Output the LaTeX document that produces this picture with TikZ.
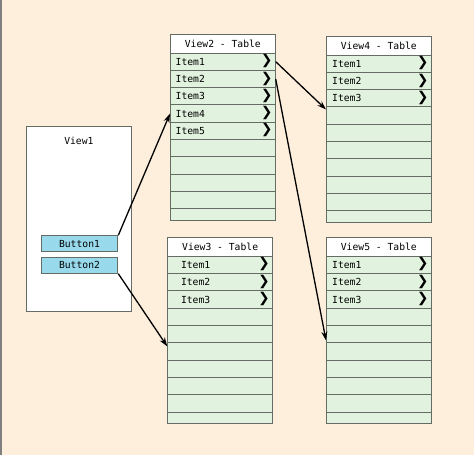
\documentclass[tikz,border=0pt]{standalone}
\usepackage{fontspec}
\usetikzlibrary{arrows.meta}
\newfontfamily\monofont{DejaVu Sans Mono}
\newfontfamily\chevfont{DejaVu Sans}
\definecolor{bgpeach}{RGB}{253,239,220}
\definecolor{rowgreen}{RGB}{225,242,222}
\definecolor{btnblue}{RGB}{152,218,236}
\definecolor{edgegray}{RGB}{100,108,100}

% table: name, x, y, title, items, text offset
\newcommand\tablebox[6]{%
  \node[titlecell,anchor=north west] (#1) at (#2,#3) {#4};
  \foreach \i in {1,...,9}
    \node[rowcell,anchor=north west] (#1-\i) at ({#2},{#3+18.5+(\i-1)*17.33}) {};
  \node[rowcell,anchor=north west,minimum height=11.5pt] (#1-10) at ({#2},{#3+18.5+9*17.33}) {};
  \foreach \i in {1,...,#5}{
    \node[itemtext,anchor=west] (#1-t\i) at ([xshift=#6pt]#1-\i.west) {Item\i};
    \node[chev,anchor=east] (#1-c\i) at ([xshift=-3pt,yshift=0.5pt]#1-\i.east) {❯};
  }
}

\begin{document}
\begin{tikzpicture}[x=1pt,y=-1pt,
    titlecell/.style={rectangle,draw=edgegray,line width=1pt,fill=white,minimum width=104.7pt,minimum height=18.5pt,inner sep=0pt,font=\monofont\fontsize{9.7}{11}\selectfont},
    rowcell/.style={rectangle,draw=edgegray,line width=1pt,fill=rowgreen,minimum width=104.7pt,minimum height=17.33pt,inner sep=0pt},
    itemtext/.style={inner sep=0pt,font=\monofont\fontsize{9.7}{11}\selectfont},
    chev/.style={inner sep=0pt,font=\chevfont\fontsize{13.5}{13.5}\selectfont},
    viewbox/.style={rectangle,draw=edgegray,line width=1pt,fill=white,minimum width=104.7pt,minimum height=184.7pt,inner sep=0pt},
    btn/.style={rectangle,draw=edgegray,line width=1pt,fill=btnblue,minimum width=76.6pt,minimum height=16pt,inner sep=0pt,font=\monofont\fontsize{9.7}{11}\selectfont},
    link/.style={line width=1.3pt,-{Stealth[length=9pt,width=6pt]}}]
  \useasboundingbox (0,0) rectangle (474,455);
  \fill[bgpeach] (0,0) rectangle (474,455);
  \fill[gray] (0,0) rectangle (2,455);

  % first view
  \node[viewbox,anchor=north west] (view1) at (26,126) {};
  \node[itemtext] (view1-t) at ([yshift=-15pt]view1.north) {View1};
  \node[btn,anchor=north west] (btn1) at (40.7,235.3) {Button1};
  \node[btn,anchor=north west] (btn2) at (40.7,256.7) {Button2};

  % tables
  \tablebox{v2}{170}{34}{View2 - Table}{5}{5.5}
  \tablebox{v4}{326}{36}{View4 - Table}{3}{6}
  \tablebox{v3}{167.3}{237.3}{View3 - Table}{3}{13.5}
  \tablebox{v5}{326}{237.3}{View5 - Table}{3}{6}

  % links
  \draw[link] (btn1.north east) -- (v2-4.west);
  \draw[link] (btn2.south east) -- ([yshift=-4pt]v3-6.north west);
  \draw[link] (v2-1.east) -- ([yshift=-3pt]v4-4.north west);
  \draw[link] (v2-2.east) -- ([yshift=3pt]v5-5.south west);
\end{tikzpicture}
\end{document}
